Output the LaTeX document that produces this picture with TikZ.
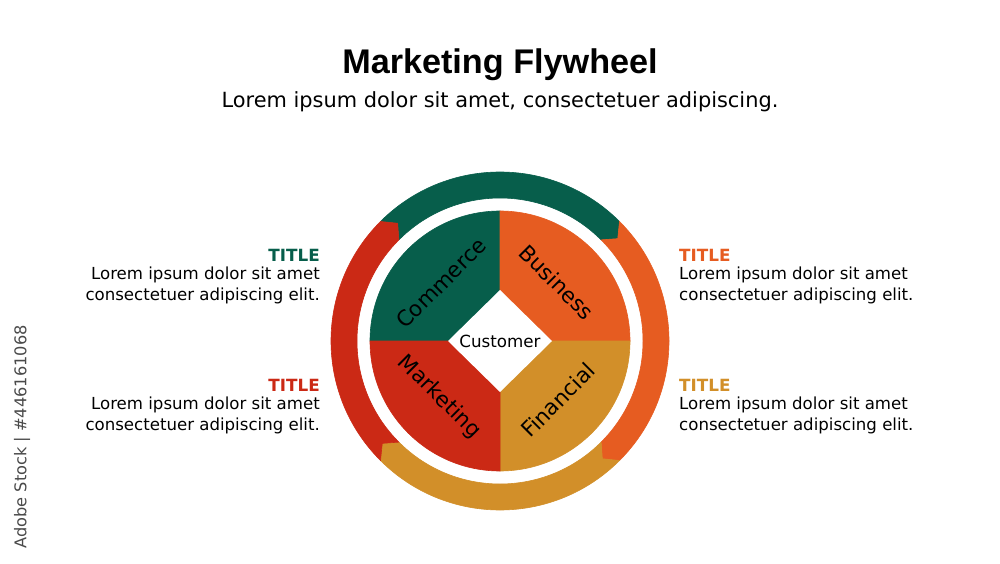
\documentclass[tikz,border=0pt]{standalone}
\usepackage{fontspec}
\setmainfont{DejaVu Sans}
\newfontfamily\titlefont{Liberation Sans}
\definecolor{fwgreen}{HTML}{075E4B}
\definecolor{fworange}{HTML}{E65C21}
\definecolor{fwred}{HTML}{CB2915}
\definecolor{fwgold}{HTML}{D28F29}
\definecolor{fwgray}{HTML}{4A4A4A}
\tikzset{
  bodytxt/.style={inner sep=0pt, font=\fontsize{16.6pt}{21pt}\selectfont},
  headtxt/.style={inner sep=0pt, font=\fontsize{16.8pt}{21pt}\selectfont\bfseries},
  quadtxt/.style={inner sep=0pt, font=\fontsize{21.5pt}{24pt}\selectfont},
  seg/.style={fill=#1, draw=#1, line width=0.6pt, line join=miter},
}
\begin{document}
\begin{tikzpicture}[x=1pt,y=1pt]
\useasboundingbox (0,0) rectangle (1000,563);
\fill[white] (0,0) rectangle (1000,563);
% titles
\node[inner sep=0pt, font=\titlefont\bfseries\fontsize{34.2pt}{40pt}\selectfont] (title) at (500,498) {Marketing Flywheel};
\node[inner sep=0pt, font=\fontsize{20.9pt}{24pt}\selectfont] (subtitle) at (500,461) {Lorem ipsum dolor sit amet, consectetuer adipiscing.};
% wheel
\begin{scope}[shift={(500,222)}]
  % ring segments (clockwise, pointed heads)
  \path[seg=fwgreen] (135:169) arc[start angle=135, end angle=45, radius=169] -- (41:156) -- (45:143) arc[start angle=45, end angle=135, radius=143] -- (131:156) -- cycle;
  \path[seg=fworange] (45:169) arc[start angle=45, end angle=-45, radius=169] -- (-49:156) -- (-45:143) arc[start angle=-45, end angle=45, radius=143] -- (41:156) -- cycle;
  \path[seg=fwgold] (-45:169) arc[start angle=-45, end angle=-135, radius=169] -- (-139:156) -- (-135:143) arc[start angle=-135, end angle=-45, radius=143] -- (-49:156) -- cycle;
  \path[seg=fwred] (-135:169) arc[start angle=-135, end angle=-225, radius=169] -- (-229:156) -- (-225:143) arc[start angle=-225, end angle=-135, radius=143] -- (-139:156) -- cycle;
  % inner quadrants
  \path[seg=fwgreen] (0,0) -- (90:130) arc[start angle=90, end angle=180, radius=130] -- cycle;
  \path[seg=fworange] (0,0) -- (0:130) arc[start angle=0, end angle=90, radius=130] -- cycle;
  \path[seg=fwgold] (0,0) -- (-90:130) arc[start angle=-90, end angle=0, radius=130] -- cycle;
  \path[seg=fwred] (0,0) -- (180:130) arc[start angle=180, end angle=270, radius=130] -- cycle;
  \fill[white] (0,51) -- (52,0) -- (0,-51) -- (-52,0) -- cycle;
  \node[inner sep=0pt, font=\fontsize{16.7pt}{20pt}\selectfont] (customer) at (0,0) {Customer};
  \node[quadtxt, rotate=45] (commerce) at (-59,58) {Commerce};
  \node[quadtxt, rotate=-45] (business) at (57,59) {Business};
  \node[quadtxt, rotate=-45] (marketing) at (-61,-56) {Marketing};
  \node[quadtxt, rotate=45] (financial) at (58,-59) {Financial};
\end{scope}
% left texts
\node[headtxt, text=fwgreen, anchor=base east] (t1) at (320,302) {TITLE};
\node[bodytxt, anchor=base east] (l1a) at (320,284) {Lorem ipsum dolor sit amet};
\node[bodytxt, anchor=base east] (l1b) at (320,263) {consectetuer adipiscing elit.};
\node[headtxt, text=fwred, anchor=base east] (t2) at (320,172) {TITLE};
\node[bodytxt, anchor=base east] (l2a) at (320,154) {Lorem ipsum dolor sit amet};
\node[bodytxt, anchor=base east] (l2b) at (320,133) {consectetuer adipiscing elit.};
% right texts
\node[headtxt, text=fworange, anchor=base west] (t3) at (679,302) {TITLE};
\node[bodytxt, anchor=base west] (r1a) at (679,284) {Lorem ipsum dolor sit amet};
\node[bodytxt, anchor=base west] (r1b) at (679,263) {consectetuer adipiscing elit.};
\node[headtxt, text=fwgold, anchor=base west] (t4) at (679,172) {TITLE};
\node[bodytxt, anchor=base west] (r2a) at (679,154) {Lorem ipsum dolor sit amet};
\node[bodytxt, anchor=base west] (r2b) at (679,133) {consectetuer adipiscing elit.};
% side credit
\node[inner sep=0pt, rotate=90, text=fwgray, font=\fontsize{16.2pt}{20pt}\selectfont] (credit) at (22,126) {Adobe Stock | \#446161068};
\end{tikzpicture}
\end{document}
